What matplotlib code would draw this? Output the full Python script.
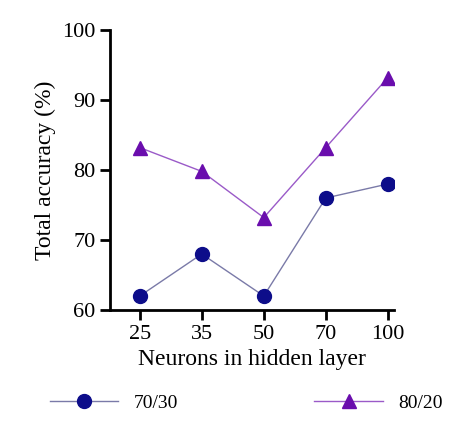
import matplotlib
matplotlib.use("Agg")
import matplotlib.pyplot as plt

categories = ["25", "35", "50", "70", "100"]
s7030 = [62, 68, 62, 76, 78]
s8020 = [83.2, 79.8, 73.2, 83.2, 93.2]

plt.rcParams['font.family'] = ['Liberation Serif']
fig = plt.figure(figsize=(4.74, 4.33), dpi=100)
ax = fig.add_axes([110/474, 1-310/433, 284/474, 280/433])
x = list(range(len(categories)))
l1, = ax.plot(x, s7030, color='#7a7aa8', lw=1, marker='o', ms=10, mfc='#0d0d8a', mec='#0d0d8a', label='70/30')
l2, = ax.plot(x, s8020, color='#9a5ac8', lw=1, marker='^', ms=10, mfc='#6a0dad', mec='#6a0dad', label='80/20')
ax.set_xlim(-0.48, 4.1)
ax.set_ylim(60, 100)
ax.set_xticks(x, categories)
ax.set_yticks([60, 70, 80, 90, 100])
for s in ['top', 'right']:
    ax.spines[s].set_visible(False)
for s in ['left', 'bottom']:
    ax.spines[s].set_linewidth(2)
ax.tick_params(width=2, length=7, labelsize=16)
ax.set_xlabel("Neurons in hidden layer", fontsize=17)
ax.set_ylabel("Total accuracy (%)", fontsize=17)
fig.legend(handles=[l1, l2], loc='center', bbox_to_anchor=(0.52, 1-403/433), ncol=2,
           frameon=False, fontsize=14, handlelength=3.5, columnspacing=7)
fig.savefig("out.png", dpi=100)
